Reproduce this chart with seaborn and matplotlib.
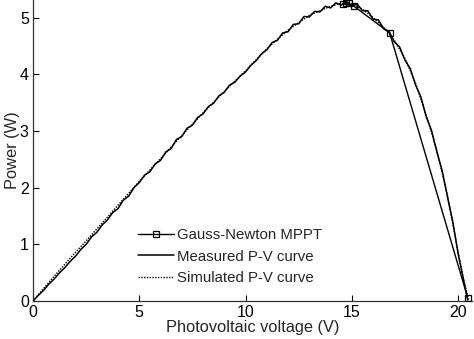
import numpy as np
import pandas as pd
import matplotlib
matplotlib.use("Agg")
import matplotlib.pyplot as plt
import seaborn as sns

# Measured P-V curve (V, W)
meas_v = [0.00, 0.25, 0.50, 0.75, 1.00, 1.25, 1.50, 1.75, 2.00, 2.25, 2.50, 2.75,
          3.00, 3.25, 3.50, 3.75, 4.00, 4.25, 4.50, 4.75, 5.00, 5.25, 5.50, 5.75,
          6.00, 6.25, 6.50, 6.75, 7.00, 7.25, 7.50, 7.75, 8.00, 8.25, 8.50, 8.75,
          9.00, 9.25, 9.50, 9.75, 10.00, 10.25, 10.50, 10.75, 11.00, 11.25, 11.50,
          11.75, 12.00, 12.25, 12.50, 12.75, 13.00, 13.25, 13.50, 13.75, 14.00,
          14.25, 14.50, 14.75, 15.00, 15.25, 15.50, 15.75, 16.00, 16.25, 16.50,
          16.75, 17.00, 17.25, 17.50, 17.75, 18.00, 18.25, 18.50, 18.75, 19.00,
          19.25, 19.50, 19.75, 20.00, 20.25, 20.45]
meas_p = [0.00, 0.10, 0.19, 0.30, 0.39, 0.50, 0.59, 0.70, 0.79, 0.91, 1.00, 1.13,
          1.21, 1.34, 1.43, 1.56, 1.63, 1.78, 1.85, 2.00, 2.09, 2.22, 2.28, 2.42,
          2.48, 2.63, 2.69, 2.85, 2.90, 3.05, 3.10, 3.24, 3.30, 3.43, 3.49, 3.62,
          3.68, 3.81, 3.86, 3.97, 4.04, 4.16, 4.24, 4.36, 4.43, 4.56, 4.60,
          4.73, 4.75, 4.88, 4.89, 5.02, 5.01, 5.11, 5.10, 5.20, 5.17,
          5.26, 5.22, 5.28, 5.21, 5.24, 5.12, 5.12, 4.97, 4.96, 4.80,
          4.76, 4.57, 4.48, 4.25, 4.10, 3.81, 3.60, 3.25, 3.01, 2.63,
          2.30, 1.84, 1.40, 0.84, 0.38, 0.02]

# Simulated P-V curve (V, W)
sim_v = [0.0, 0.5, 1.0, 1.5, 2.0, 2.5, 3.0, 3.5, 4.0, 4.5, 5.0, 6.0, 7.0, 8.0,
         9.0, 10.0, 11.0, 12.0, 13.0, 14.0, 14.5, 15.0, 15.5, 16.0, 16.5, 17.0,
         17.5, 18.0, 18.5, 19.0, 19.5, 20.0, 20.25, 20.5]
sim_p = [0.00, 0.22, 0.44, 0.65, 0.86, 1.06, 1.27, 1.48, 1.69, 1.90, 2.11, 2.51,
         2.92, 3.32, 3.70, 4.06, 4.45, 4.78, 5.04, 5.20, 5.25, 5.24, 5.15, 5.00,
         4.83, 4.60, 4.28, 3.84, 3.28, 2.66, 1.86, 0.86, 0.40, 0.00]

# Gauss-Newton MPPT operating points, in visiting order
mppt_v = [20.45, 16.78, 15.10, 14.60, 14.85, 14.72]
mppt_p = [0.06, 4.73, 5.20, 5.24, 5.25, 5.25]

x_ticks = [0, 5, 10, 15, 20]
y_ticks = [0, 1, 2, 3, 4, 5]

sns.set_style("ticks")
plt.rcParams["font.family"] = ["Liberation Sans", "DejaVu Sans"]

fig = plt.figure(figsize=(4.74, 3.39), dpi=100)
ax = fig.add_axes([0.0696, 0.112, 0.926, 0.888])

mppt = pd.DataFrame({"v": mppt_v, "p": mppt_p})
meas = pd.DataFrame({"v": meas_v, "p": meas_p})
sim = pd.DataFrame({"v": sim_v, "p": sim_p})

sns.lineplot(data=mppt, x="v", y="p", ax=ax, sort=False, color="black", lw=1.0,
             marker="s", markersize=5, markerfacecolor="none",
             markeredgecolor="black", markeredgewidth=0.9,
             label="Gauss-Newton MPPT", zorder=4)
sns.lineplot(data=meas, x="v", y="p", ax=ax, sort=False, color="black", lw=1.1,
             label="Measured P-V curve", zorder=3)
sns.lineplot(data=sim, x="v", y="p", ax=ax, sort=False, color="black", lw=1.0,
             linestyle=(0, (1, 1)), label="Simulated P-V curve", zorder=2)

ax.set_xlim(0, 20.65)
ax.set_ylim(0, 5.31)
ax.set_xticks(x_ticks)
ax.set_yticks(y_ticks)
ax.tick_params(direction="in", length=4, width=0.8, labelsize=11.5,
               colors="black", pad=3)
for side in ("top", "right"):
    ax.spines[side].set_visible(False)
for side in ("left", "bottom"):
    ax.spines[side].set_color("#333333")
    ax.spines[side].set_linewidth(0.9)

ax.set_xlabel("Photovoltaic voltage (V)", fontsize=11.8, labelpad=0)
ax.set_ylabel("Power (W)", fontsize=11.8, labelpad=0)

leg = ax.legend(loc="upper left", bbox_to_anchor=(0.225, 0.262), frameon=False,
                fontsize=10.8, handlelength=2.4, handletextpad=0.25,
                labelspacing=0.5, borderaxespad=0)

fig.savefig("out.png", dpi=100)
